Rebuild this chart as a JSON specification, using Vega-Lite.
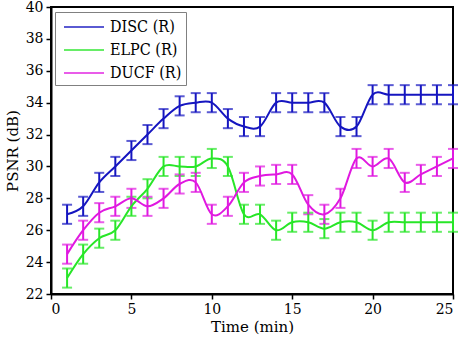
{
  "$schema": "https://vega.github.io/schema/vega-lite/v6.json",
  "width": 402,
  "height": 287,
  "autosize": {"type": "none"},
  "padding": {"left": 51, "top": 7, "right": 21, "bottom": 53},
  "background": "white",
  "config": {
    "view": {"stroke": "black", "strokeWidth": 2},
    "font": "DejaVu Serif",
    "axis": {
      "grid": false,
      "domainColor": "black",
      "domainWidth": 2,
      "tickColor": "black",
      "tickWidth": 1.5,
      "tickSize": 5,
      "labelFont": "DejaVu Serif",
      "labelFontSize": 14,
      "labelColor": "black",
      "titleFont": "DejaVu Serif",
      "titleFontSize": 15,
      "titleFontWeight": "normal",
      "titleColor": "black"
    },
    "axisX": {"titleFontWeight": "normal"},
    "axisY": {"titleFontWeight": "normal"}
  },
  "data": {
    "values": [
      {"t": 1, "series": "DISC (R)", "psnr": 27.0, "err": 0.6},
      {"t": 2, "series": "DISC (R)", "psnr": 27.5, "err": 0.6},
      {"t": 3, "series": "DISC (R)", "psnr": 29.0, "err": 0.6},
      {"t": 4, "series": "DISC (R)", "psnr": 30.0, "err": 0.6},
      {"t": 5, "series": "DISC (R)", "psnr": 31.0, "err": 0.6},
      {"t": 6, "series": "DISC (R)", "psnr": 32.0, "err": 0.6},
      {"t": 7, "series": "DISC (R)", "psnr": 33.0, "err": 0.6},
      {"t": 8, "series": "DISC (R)", "psnr": 33.8, "err": 0.6},
      {"t": 9, "series": "DISC (R)", "psnr": 34.0, "err": 0.6},
      {"t": 10, "series": "DISC (R)", "psnr": 34.0, "err": 0.6},
      {"t": 11, "series": "DISC (R)", "psnr": 33.0, "err": 0.6},
      {"t": 12, "series": "DISC (R)", "psnr": 32.5, "err": 0.6},
      {"t": 13, "series": "DISC (R)", "psnr": 32.5, "err": 0.6},
      {"t": 14, "series": "DISC (R)", "psnr": 34.0, "err": 0.6},
      {"t": 15, "series": "DISC (R)", "psnr": 34.0, "err": 0.6},
      {"t": 16, "series": "DISC (R)", "psnr": 34.0, "err": 0.6},
      {"t": 17, "series": "DISC (R)", "psnr": 34.0, "err": 0.6},
      {"t": 18, "series": "DISC (R)", "psnr": 32.5, "err": 0.6},
      {"t": 19, "series": "DISC (R)", "psnr": 32.5, "err": 0.6},
      {"t": 20, "series": "DISC (R)", "psnr": 34.5, "err": 0.6},
      {"t": 21, "series": "DISC (R)", "psnr": 34.5, "err": 0.6},
      {"t": 22, "series": "DISC (R)", "psnr": 34.5, "err": 0.6},
      {"t": 23, "series": "DISC (R)", "psnr": 34.5, "err": 0.6},
      {"t": 24, "series": "DISC (R)", "psnr": 34.5, "err": 0.6},
      {"t": 25, "series": "DISC (R)", "psnr": 34.5, "err": 0.6},
      {"t": 1, "series": "ELPC (R)", "psnr": 23.0, "err": 0.6},
      {"t": 2, "series": "ELPC (R)", "psnr": 24.5, "err": 0.6},
      {"t": 3, "series": "ELPC (R)", "psnr": 25.5, "err": 0.6},
      {"t": 4, "series": "ELPC (R)", "psnr": 26.0, "err": 0.6},
      {"t": 5, "series": "ELPC (R)", "psnr": 27.5, "err": 0.6},
      {"t": 6, "series": "ELPC (R)", "psnr": 28.6, "err": 0.6},
      {"t": 7, "series": "ELPC (R)", "psnr": 30.0, "err": 0.6},
      {"t": 8, "series": "ELPC (R)", "psnr": 30.0, "err": 0.6},
      {"t": 9, "series": "ELPC (R)", "psnr": 30.0, "err": 0.6},
      {"t": 10, "series": "ELPC (R)", "psnr": 30.5, "err": 0.6},
      {"t": 11, "series": "ELPC (R)", "psnr": 30.0, "err": 0.6},
      {"t": 12, "series": "ELPC (R)", "psnr": 27.0, "err": 0.6},
      {"t": 13, "series": "ELPC (R)", "psnr": 27.0, "err": 0.6},
      {"t": 14, "series": "ELPC (R)", "psnr": 26.0, "err": 0.6},
      {"t": 15, "series": "ELPC (R)", "psnr": 26.5, "err": 0.6},
      {"t": 16, "series": "ELPC (R)", "psnr": 26.5, "err": 0.6},
      {"t": 17, "series": "ELPC (R)", "psnr": 26.1, "err": 0.6},
      {"t": 18, "series": "ELPC (R)", "psnr": 26.5, "err": 0.6},
      {"t": 19, "series": "ELPC (R)", "psnr": 26.5, "err": 0.6},
      {"t": 20, "series": "ELPC (R)", "psnr": 26.0, "err": 0.6},
      {"t": 21, "series": "ELPC (R)", "psnr": 26.5, "err": 0.6},
      {"t": 22, "series": "ELPC (R)", "psnr": 26.5, "err": 0.6},
      {"t": 23, "series": "ELPC (R)", "psnr": 26.5, "err": 0.6},
      {"t": 24, "series": "ELPC (R)", "psnr": 26.5, "err": 0.6},
      {"t": 25, "series": "ELPC (R)", "psnr": 26.5, "err": 0.6},
      {"t": 1, "series": "DUCF (R)", "psnr": 24.5, "err": 0.6},
      {"t": 2, "series": "DUCF (R)", "psnr": 26.0, "err": 0.6},
      {"t": 3, "series": "DUCF (R)", "psnr": 27.1, "err": 0.6},
      {"t": 4, "series": "DUCF (R)", "psnr": 27.5, "err": 0.6},
      {"t": 5, "series": "DUCF (R)", "psnr": 28.0, "err": 0.6},
      {"t": 6, "series": "DUCF (R)", "psnr": 27.5, "err": 0.6},
      {"t": 7, "series": "DUCF (R)", "psnr": 28.0, "err": 0.6},
      {"t": 8, "series": "DUCF (R)", "psnr": 28.9, "err": 0.6},
      {"t": 9, "series": "DUCF (R)", "psnr": 29.0, "err": 0.6},
      {"t": 10, "series": "DUCF (R)", "psnr": 27.0, "err": 0.6},
      {"t": 11, "series": "DUCF (R)", "psnr": 27.5, "err": 0.6},
      {"t": 12, "series": "DUCF (R)", "psnr": 29.0, "err": 0.6},
      {"t": 13, "series": "DUCF (R)", "psnr": 29.4, "err": 0.6},
      {"t": 14, "series": "DUCF (R)", "psnr": 29.5, "err": 0.6},
      {"t": 15, "series": "DUCF (R)", "psnr": 29.5, "err": 0.6},
      {"t": 16, "series": "DUCF (R)", "psnr": 27.6, "err": 0.6},
      {"t": 17, "series": "DUCF (R)", "psnr": 27.0, "err": 0.6},
      {"t": 18, "series": "DUCF (R)", "psnr": 28.0, "err": 0.6},
      {"t": 19, "series": "DUCF (R)", "psnr": 30.5, "err": 0.6},
      {"t": 20, "series": "DUCF (R)", "psnr": 30.0, "err": 0.6},
      {"t": 21, "series": "DUCF (R)", "psnr": 30.5, "err": 0.6},
      {"t": 22, "series": "DUCF (R)", "psnr": 29.0, "err": 0.6},
      {"t": 23, "series": "DUCF (R)", "psnr": 29.5, "err": 0.6},
      {"t": 24, "series": "DUCF (R)", "psnr": 30.0, "err": 0.6},
      {"t": 25, "series": "DUCF (R)", "psnr": 30.5, "err": 0.6}
    ]
  },
  "encoding": {
    "x": {
      "field": "t", "type": "quantitative",
      "scale": {"domain": [0, 25], "nice": false},
      "axis": {"values": [0, 5, 10, 15, 20, 25], "title": "Time (min)", "titleFontWeight": "normal", "titlePadding": 3, "labelPadding": 3}
    },
    "y": {
      "field": "psnr", "type": "quantitative",
      "scale": {"domain": [22, 40], "nice": false, "zero": false},
      "axis": {"values": [22, 24, 26, 28, 30, 32, 34, 36, 38, 40], "title": "PSNR (dB)", "titleFontWeight": "normal", "titlePadding": 5, "labelPadding": 3}
    },
    "color": {
      "field": "series", "type": "nominal",
      "scale": {"domain": ["DISC (R)", "ELPC (R)", "DUCF (R)"], "range": ["#1515c0", "#28e628", "#e018e0"]},
      "legend": {
        "orient": "none", "legendX": 4, "legendY": 5,
        "title": null,
        "symbolType": "M-2,0H2", "symbolSize": 400, "symbolStrokeWidth": 2,
        "symbolOffset": 14,
        "labelFont": "DejaVu Serif Condensed", "labelFontSize": 16, "labelColor": "black",
        "labelOffset": 15,
        "rowPadding": 4,
        "padding": 4,
        "strokeColor": "#808080", "fillColor": "white"
      }
    }
  },
  "layer": [
    {
      "mark": {"type": "errorbar", "ticks": {"size": 10, "thickness": 2}, "thickness": 2},
      "encoding": {
        "yError": {"field": "err"}
      }
    },
    {
      "mark": {"type": "line", "interpolate": "cardinal", "strokeWidth": 2}
    }
  ]
}
